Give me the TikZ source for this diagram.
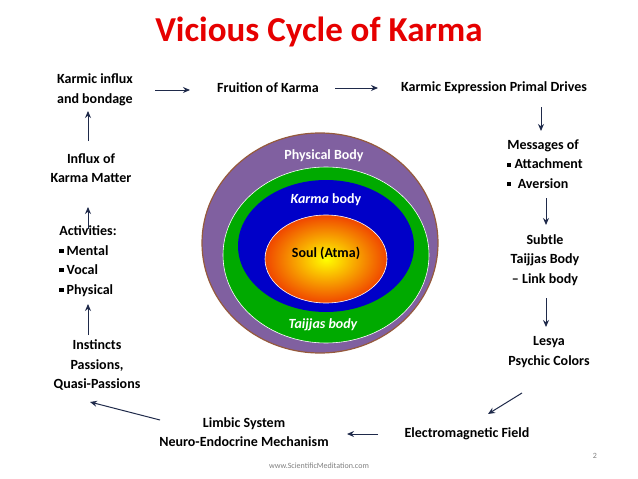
\documentclass[tikz,border=0pt]{standalone}
\usepackage{fontspec}
\setmainfont{Carlito}
\usetikzlibrary{arrows.meta}
\definecolor{navy}{HTML}{1F2A4A}
\newcommand{\sqb}{\rule[0.15em]{0.3em}{0.3em}\ }
\begin{document}
\begin{tikzpicture}[x=1pt,y=-1pt,
  lbl/.style={font=\bfseries\fontsize{14}{19.5}\selectfont, align=center, text=black},
  arr/.style={-{Stealth[length=7pt,width=6pt]}, draw=navy, line width=1pt}]
\useasboundingbox (0,0) rectangle (638,479);
\fill[white] (0,0) rectangle (638,479);
\node[font=\bfseries\fontsize{35}{38}\selectfont, text={rgb,255:red,230;green,0;blue,0}] (title) at (319,32) {Vicious Cycle of Karma};
% ellipses
\filldraw[fill={rgb,255:red,128;green,96;blue,160}, draw={rgb,255:red,150;green,90;blue,60}, line width=1.2pt] (320,243) ellipse (118 and 110);
\filldraw[fill={rgb,255:red,0;green,170;blue,0}, draw=white, line width=0.6pt] (326,255) ellipse (103 and 88);
\fill[fill={rgb,255:red,0;green,0;blue,200}] (326,246) ellipse (88 and 66);
\shade[inner color=yellow, outer color={rgb,255:red,240;green,70;blue,0}] (326,259) ellipse (61 and 44);
\draw[white, line width=0.6pt] (326,259) ellipse (61 and 44);
\node[lbl, text=white] (pb) at (324,156) {Physical Body};
\node[lbl, text=white] (kb) at (326,200) {\textit{Karma} body};
\node[lbl] (soul) at (326,253) {Soul (Atma)};
\node[lbl, text=white, font=\bfseries\itshape\fontsize{14}{17}\selectfont] (tb) at (323,325) {Taijjas body};
% labels
\node[lbl, align=left] (a1) at (95,90) {Karmic influx\\and bondage};
\node[lbl] (a2) at (268,88) {Fruition of  Karma};
\node[lbl] (a3) at (494,88) {Karmic Expression Primal Drives};
\node[lbl, align=left] (a4) at (545,164) {Messages of\\\sqb Attachment\\\sqb\ Aversion};
\node[lbl] (a5) at (545,260) {Subtle\\Taijjas Body\\– Link body};
\node[lbl] (a6) at (549,352) {Lesya\\Psychic Colors};
\node[lbl] (a7) at (467,434) {Electromagnetic Field};
\node[lbl] (a8) at (244,432) {Limbic System\\Neuro-Endocrine Mechanism};
\node[lbl] (a9) at (97,365) {Instincts\\Passions,\\Quasi-Passions};
\node[lbl, align=left] (a10) at (88,261) {Activities:\\\sqb Mental\\\sqb Vocal\\\sqb Physical};
\node[lbl] (a11) at (91,168) {Influx of\\Karma Matter};
% arrows
\coordinate (p1) at (155,90); \coordinate (q1) at (190,90);
\draw[arr] (p1) -- (q1);
\coordinate (p2) at (335,88); \coordinate (q2) at (378,88);
\draw[arr] (p2) -- (q2);
\coordinate (p3) at (541,107); \coordinate (q3) at (541,131);
\draw[arr] (p3) -- (q3);
\coordinate (p4) at (546,198); \coordinate (q4) at (546,225);
\draw[arr] (p4) -- (q4);
\coordinate (p5) at (546,298); \coordinate (q5) at (546,327);
\draw[arr] (p5) -- (q5);
\coordinate (p6) at (522,393); \coordinate (q6) at (488,414);
\draw[arr] (p6) -- (q6);
\coordinate (p7) at (378,434); \coordinate (q7) at (347,434);
\draw[arr] (p7) -- (q7);
\coordinate (p8) at (160,420); \coordinate (q8) at (90,402);
\draw[arr] (p8) -- (q8);
\coordinate (p9) at (88,335); \coordinate (q9) at (88,304);
\draw[arr] (p9) -- (q9);
\coordinate (p10) at (88,229); \coordinate (q10) at (88,207);
\draw[arr] (p10) -- (q10);
\coordinate (p11) at (88,141); \coordinate (q11) at (88,111);
\draw[arr] (p11) -- (q11);
\node[font=\fontsize{8}{9}\selectfont, text=gray] (web) at (319,466) {www.ScientificMeditation.com};
\node[font=\fontsize{8}{9}\selectfont, text=gray] (num) at (595,456) {2};
\end{tikzpicture}
\end{document}
